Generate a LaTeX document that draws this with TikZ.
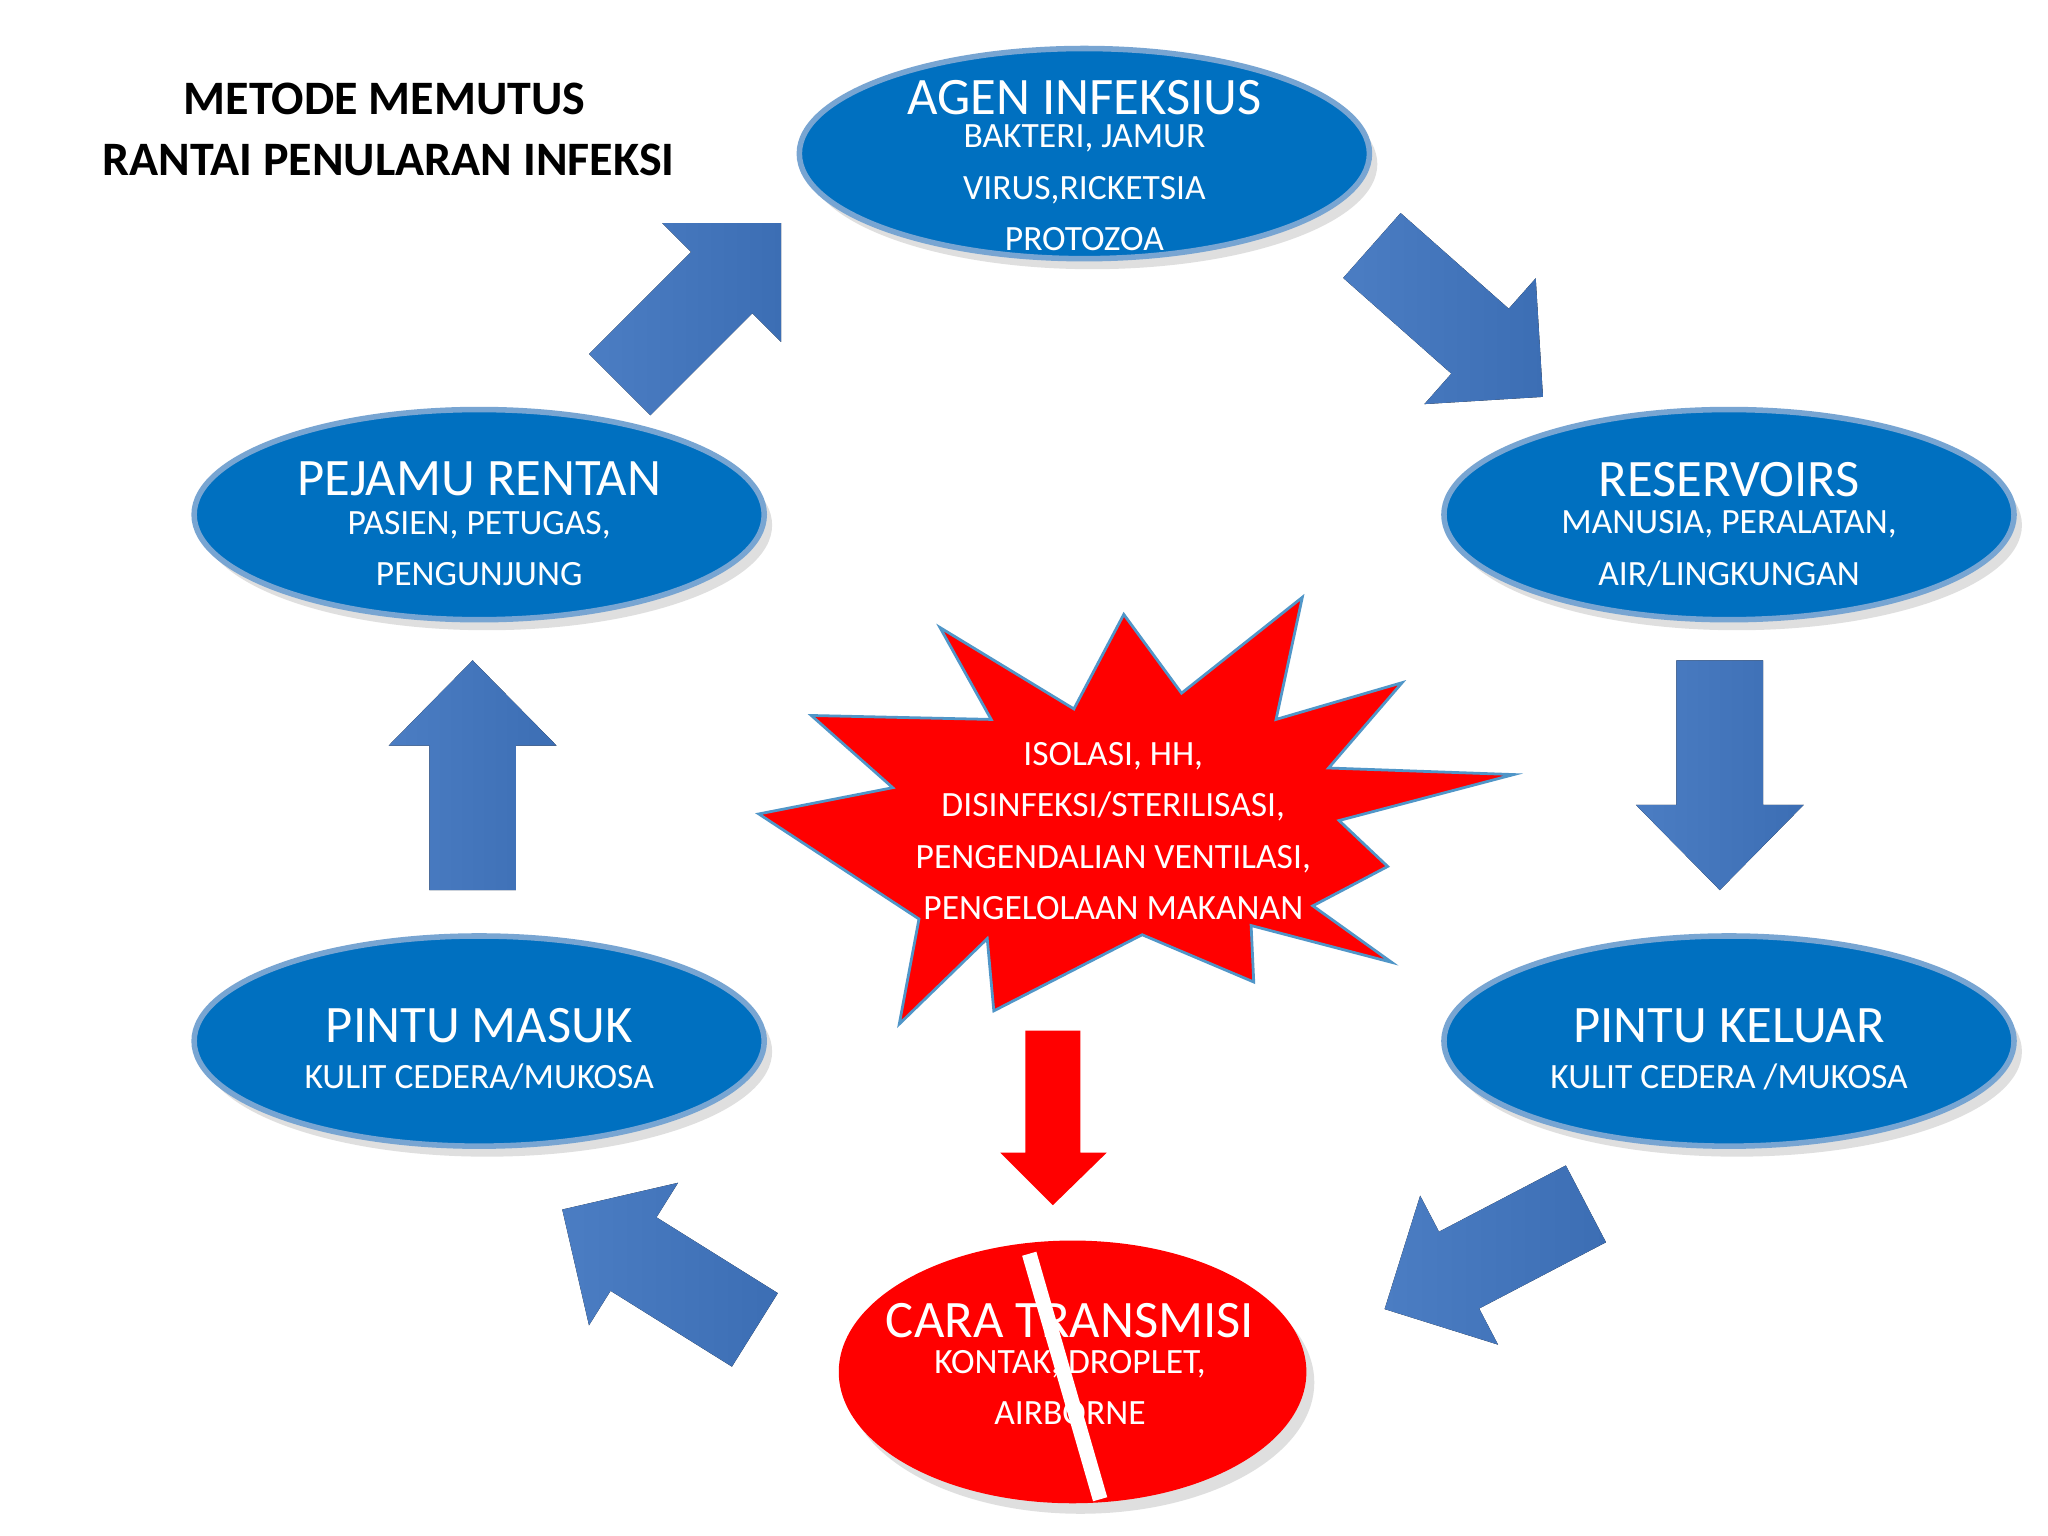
\documentclass[tikz,border=0pt]{standalone}
\usepackage{fontspec}
\setmainfont{Carlito}
\usetikzlibrary{shadows,shapes.geometric}
\definecolor{eblue}{RGB}{0,112,192}
\definecolor{eedge}{RGB}{120,165,210}
\definecolor{ablue}{RGB}{60,110,180}
\definecolor{ablue2}{RGB}{75,125,195}
\definecolor{sred}{RGB}{255,0,0}
\definecolor{sedge}{RGB}{80,150,200}
\tikzset{
  ell/.style={ellipse,fill=eblue,draw=eedge,line width=1.2pt,minimum width=4.34cm,minimum height=1.6cm,drop shadow={opacity=0.25,shadow xshift=0.6mm,shadow yshift=-0.8mm}},
  big/.style={font=\fontsize{11.4pt}{13pt}\selectfont,text=white},
  small/.style={font=\fontsize{7.7pt}{8.8pt}\selectfont,text=white,align=center},
}
\newcommand{\barrow}[7]{% x y angle length shaft head headlen
  \begin{scope}[shift={(#1,#2)},rotate=#3,y=0.01cm]
    \fill[left color=ablue2,right color=ablue] (0,-#5/2) -- (#4-#7,-#5/2) -- (#4-#7,-#6/2) -- (#4,0) -- (#4-#7,#6/2) -- (#4-#7,#5/2) -- (0,#5/2) -- cycle;
  \end{scope}}
\begin{document}
\begin{tikzpicture}[x=0.01cm,y=-0.01cm]
\useasboundingbox (0,0) rectangle (1560,1170);
\fill[white] (0,0) rectangle (1560,1170);
% title
\node[font=\fontsize{10.4pt}{12pt}\selectfont\bfseries] (t1) at (293,75) {METODE MEMUTUS};
\node[font=\fontsize{10.4pt}{12pt}\selectfont\bfseries] (t2) at (296,122) {RANTAI PENULARAN INFEKSI};
% arrows
\barrow{472}{293}{45}{174}{66}{128}{64}
\barrow{1045}{187}{-41.5}{174}{66}{128}{64}
\barrow{1208}{917}{207.6}{173}{66}{128}{64}
\barrow{575}{1013}{148}{173}{66}{128}{64}
\barrow{1310}{503}{-90}{175}{66}{128}{65}
\barrow{360}{678}{90}{175}{66}{128}{65}
\fill[sred] (781,785) -- (823,785) -- (823,878) -- (843,878) -- (802,918) -- (762,878) -- (781,878) -- cycle;
% star
\filldraw[fill=sred,draw=sedge,line width=0.6pt]
 (716,478) -- (818,540) -- (856,468) -- (900,528) -- (992,455) -- (972,548) -- (1068,520) -- (1012,585) -- (1153,590) -- (1020,625) -- (1057,660) -- (1000,690) -- (1060,733) -- (953,705) -- (955,748) -- (870,712) -- (757,770) -- (752,715) -- (685,780) -- (700,700) -- (578,620) -- (680,600) -- (618,545) -- (755,548) -- cycle;
\node[small] (star) at (848,633) {ISOLASI, HH,\\[2.3pt] DISINFEKSI/STERILISASI,\\[2.3pt] PENGENDALIAN VENTILASI,\\[2.3pt] PENGELOLAAN MAKANAN};
% ellipses
\node[ell] (agen) at (826,117) {};
\node[big] at (826,74) {AGEN INFEKSIUS};
\node[small] at (826,143) {BAKTERI, JAMUR\\[2.3pt] VIRUS,RICKETSIA\\[2.3pt] PROTOZOA};
\node[ell] (res) at (1317,392) {};
\node[big] at (1317,365) {RESERVOIRS};
\node[small] at (1317,418) {MANUSIA, PERALATAN,\\[2.3pt] AIR/LINGKUNGAN};
\node[ell] (pej) at (365,392) {};
\node[big] at (365,365) {PEJAMU RENTAN};
\node[small] at (365,418) {PASIEN, PETUGAS,\\[2.3pt] PENGUNJUNG};
\node[ell] (kel) at (1317,793) {};
\node[big] at (1317,781) {PINTU KELUAR};
\node[small] at (1317,820) {KULIT CEDERA /MUKOSA};
\node[ell] (mas) at (365,793) {};
\node[big] at (365,781) {PINTU MASUK};
\node[small] at (365,820) {KULIT CEDERA/MUKOSA};
% cara transmisi
\node[ellipse,fill=sred,minimum width=3.56cm,minimum height=2cm,drop shadow={opacity=0.25,shadow xshift=0.6mm,shadow yshift=-0.8mm}] (cara) at (817,1045) {};
\node[big] at (815,1006) {CARA TRANSMISI};
\node[small] at (815,1057) {KONTAK, DROPLET,\\[2.3pt] AIRBORNE};
\draw[white,line width=3.2pt] (784,955) -- (838,1142);
\end{tikzpicture}
\end{document}
